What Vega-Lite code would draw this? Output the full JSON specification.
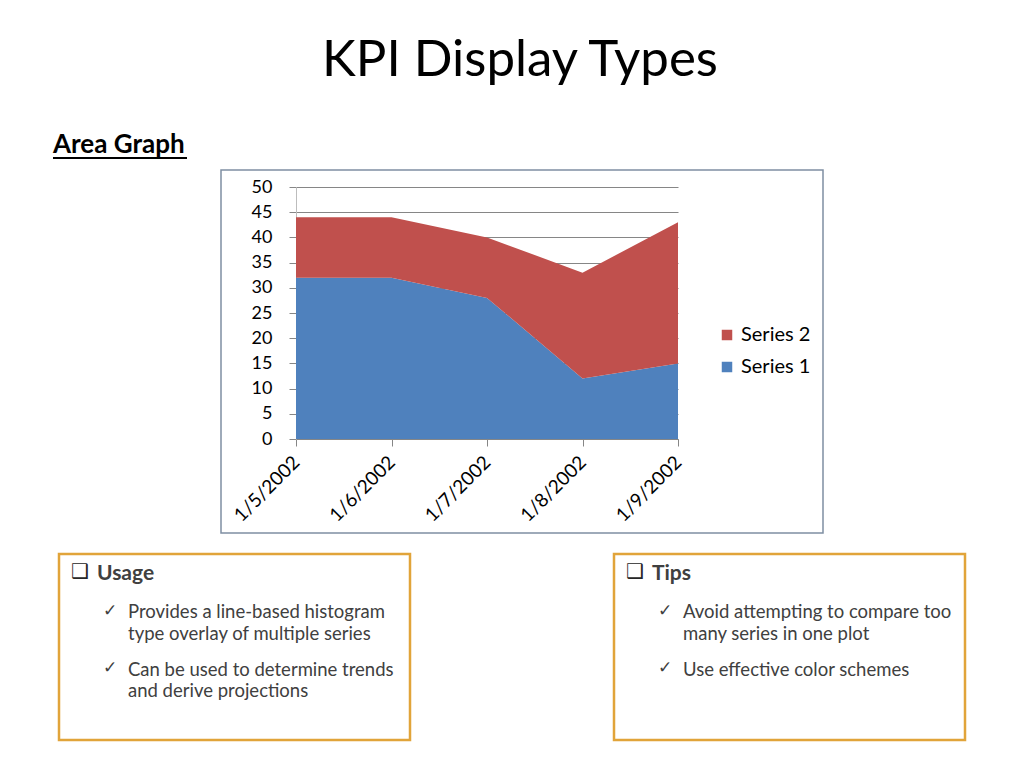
{
  "$schema": "https://vega.github.io/schema/vega-lite/v6.json",
  "width": 382,
  "height": 252,
  "autosize": "none",
  "padding": {"left": 296, "top": 187, "right": 346, "bottom": 329},
  "background": "white",
  "config": {"view": {"stroke": null}, "font": "Lato"},
  "layer": [
    {
      "data": {"values": [
        {"date": "1/5/2002", "series": "Series 1", "value": 32},
        {"date": "1/6/2002", "series": "Series 1", "value": 32},
        {"date": "1/7/2002", "series": "Series 1", "value": 28},
        {"date": "1/8/2002", "series": "Series 1", "value": 12},
        {"date": "1/9/2002", "series": "Series 1", "value": 15},
        {"date": "1/5/2002", "series": "Series 2", "value": 12},
        {"date": "1/6/2002", "series": "Series 2", "value": 12},
        {"date": "1/7/2002", "series": "Series 2", "value": 12},
        {"date": "1/8/2002", "series": "Series 2", "value": 21},
        {"date": "1/9/2002", "series": "Series 2", "value": 28}
      ]},
      "mark": {"type": "area", "opacity": 1},
      "encoding": {
        "x": {
          "field": "date", "type": "ordinal",
          "sort": ["1/5/2002", "1/6/2002", "1/7/2002", "1/8/2002", "1/9/2002"],
          "scale": {"type": "point", "padding": 0},
          "axis": {
            "title": null, "labelAngle": -45, "labelAlign": "right", "labelBaseline": "middle",
            "labelFontSize": 19, "labelFont": "Lato", "labelColor": "black", "labelPadding": 13,
            "tickSize": 7, "tickColor": "#868686", "domainColor": "#868686", "grid": false
          }
        },
        "y": {
          "field": "value", "type": "quantitative", "stack": "zero",
          "scale": {"domain": [0, 50], "nice": false},
          "axis": {
            "title": null, "values": [0, 5, 10, 15, 20, 25, 30, 35, 40, 45, 50],
            "labelFontSize": 18, "labelFont": "Lato", "labelColor": "black", "labelPadding": 17,
            "tickSize": 7, "tickColor": "#868686", "domainColor": "#BDBDBD",
            "grid": true, "gridColor": "#868686", "gridWidth": 1
          }
        },
        "color": {
          "field": "series", "type": "nominal",
          "scale": {"domain": ["Series 2", "Series 1"], "range": ["#C0504D", "#4F81BD"]},
          "legend": {
            "title": null, "orient": "none", "legendX": 421, "legendY": 138,
            "symbolType": "square", "symbolSize": 110, "symbolStrokeWidth": 0, "symbolOpacity": 1,
            "labelFontSize": 20, "labelFont": "Lato", "labelColor": "black",
            "rowPadding": 12, "labelOffset": 4
          }
        },
        "order": {"field": "series", "type": "nominal", "sort": "ascending"}
      }
    },
    {
      "data": {"values": [{}]},
      "mark": {"type": "rect", "fill": null, "stroke": "#7F8FA3", "strokeWidth": 1.5},
      "encoding": {"x": {"value": -75}, "x2": {"value": 527}, "y": {"value": -17}, "y2": {"value": 346}}
    },
    {
      "data": {"values": [{}]},
      "mark": {"type": "rect", "fill": null, "stroke": "#E1A43A", "strokeWidth": 2.5},
      "encoding": {"x": {"value": -237}, "x2": {"value": 114}, "y": {"value": 367}, "y2": {"value": 553}}
    },
    {
      "data": {"values": [{}]},
      "mark": {"type": "rect", "fill": null, "stroke": "#E1A43A", "strokeWidth": 2.5},
      "encoding": {"x": {"value": 318}, "x2": {"value": 669}, "y": {"value": 367}, "y2": {"value": 553}}
    },
    {
      "data": {"values": [{}]},
      "mark": {"type": "text", "text": "KPI Display Types", "font": "Lato", "fontSize": 51, "align": "center", "baseline": "alphabetic", "color": "black"},
      "encoding": {"x": {"value": 224}, "y": {"value": -111}}
    },
    {
      "data": {"values": [{}]},
      "mark": {"type": "text", "text": "Area Graph", "font": "Lato", "fontSize": 26, "fontWeight": "bold", "align": "left", "baseline": "alphabetic", "color": "black"},
      "encoding": {"x": {"value": -243}, "y": {"value": -34}}
    },
    {
      "data": {"values": [{}]},
      "mark": {"type": "rule", "color": "black", "strokeWidth": 2},
      "encoding": {"x": {"value": -243}, "x2": {"value": -109}, "y": {"value": -29}}
    },
    {
      "data": {"values": [{}]},
      "mark": {"type": "text", "text": "❑", "font": "DejaVu Sans", "fontSize": 20, "align": "left", "baseline": "alphabetic", "color": "#262626"},
      "encoding": {"x": {"value": -225}, "y": {"value": 391}}
    },
    {
      "data": {"values": [{}]},
      "mark": {"type": "text", "text": "Usage", "font": "Lato", "fontSize": 21, "fontWeight": "bold", "align": "left", "baseline": "alphabetic", "color": "#404040"},
      "encoding": {"x": {"value": -199}, "y": {"value": 393}}
    },
    {
      "data": {"values": [{}]},
      "mark": {"type": "text", "text": "✓", "font": "DejaVu Sans", "fontSize": 17, "align": "left", "baseline": "alphabetic", "color": "#404040"},
      "encoding": {"x": {"value": -193}, "y": {"value": 429}}
    },
    {
      "data": {"values": [{}]},
      "mark": {"type": "text", "text": ["Provides a line-based histogram", "type overlay of multiple series"], "lineHeight": 22, "font": "Lato", "fontSize": 18.5, "align": "left", "baseline": "alphabetic", "color": "#404040"},
      "encoding": {"x": {"value": -168}, "y": {"value": 431}}
    },
    {
      "data": {"values": [{}]},
      "mark": {"type": "text", "text": "✓", "font": "DejaVu Sans", "fontSize": 17, "align": "left", "baseline": "alphabetic", "color": "#404040"},
      "encoding": {"x": {"value": -193}, "y": {"value": 486}}
    },
    {
      "data": {"values": [{}]},
      "mark": {"type": "text", "text": ["Can be used to determine trends", "and derive projections"], "lineHeight": 21, "font": "Lato", "fontSize": 18.5, "align": "left", "baseline": "alphabetic", "color": "#404040"},
      "encoding": {"x": {"value": -168}, "y": {"value": 489}}
    },
    {
      "data": {"values": [{}]},
      "mark": {"type": "text", "text": "❑", "font": "DejaVu Sans", "fontSize": 20, "align": "left", "baseline": "alphabetic", "color": "#262626"},
      "encoding": {"x": {"value": 330}, "y": {"value": 391}}
    },
    {
      "data": {"values": [{}]},
      "mark": {"type": "text", "text": "Tips", "font": "Lato", "fontSize": 21, "fontWeight": "bold", "align": "left", "baseline": "alphabetic", "color": "#404040"},
      "encoding": {"x": {"value": 356}, "y": {"value": 393}}
    },
    {
      "data": {"values": [{}]},
      "mark": {"type": "text", "text": "✓", "font": "DejaVu Sans", "fontSize": 17, "align": "left", "baseline": "alphabetic", "color": "#404040"},
      "encoding": {"x": {"value": 362}, "y": {"value": 429}}
    },
    {
      "data": {"values": [{}]},
      "mark": {"type": "text", "text": ["Avoid attempting to compare too", "many series in one plot"], "lineHeight": 22, "font": "Lato", "fontSize": 18.5, "align": "left", "baseline": "alphabetic", "color": "#404040"},
      "encoding": {"x": {"value": 387}, "y": {"value": 431}}
    },
    {
      "data": {"values": [{}]},
      "mark": {"type": "text", "text": "✓", "font": "DejaVu Sans", "fontSize": 17, "align": "left", "baseline": "alphabetic", "color": "#404040"},
      "encoding": {"x": {"value": 362}, "y": {"value": 486}}
    },
    {
      "data": {"values": [{}]},
      "mark": {"type": "text", "text": "Use effective color schemes", "font": "Lato", "fontSize": 18.5, "align": "left", "baseline": "alphabetic", "color": "#404040"},
      "encoding": {"x": {"value": 387}, "y": {"value": 489}}
    }
  ]
}
